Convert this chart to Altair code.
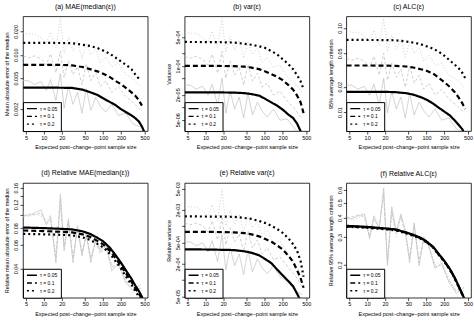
import altair as alt
import pandas as pd

FONT = "Liberation Sans"
TAUS = ["τ = 0.05", "τ = 0.1", "τ = 0.2"]
X_DOMAIN = [4.45, 563]
X_TICKS = [5, 10, 20, 50, 100, 200, 500]
X_TITLE = "Expected post−change−point sample size"

# x positions of the smoothed (black) curves and of the raw (grey) curves
X_SMOOTH = [4.5, 10, 20, 30, 45, 60, 80, 100, 130, 160, 200, 250, 300, 350, 400, 450, 500]
X_RAW = [4.5, 5.5, 7, 9, 11, 13, 16, 19, 22, 26, 31, 37, 44, 52, 62, 75, 90, 110, 140, 180, 240, 320, 430]

# ---- (a) MAE(median)
A_S05 = [0.00378, 0.00377, 0.00376, 0.00374, 0.00355, 0.00330, 0.00304, 0.00275, 0.00246, 0.00226, 0.00199, 0.00180, 0.00166, 0.00152, 0.00138, 0.00119, 0.00099]
A_S10 = [0.00743, 0.00741, 0.00739, 0.00730, 0.00695, 0.00653, 0.00611, 0.00571, 0.00515, 0.00462, 0.00418, 0.00368, 0.00328, 0.00295, 0.00260, 0.00221, None]
A_S20 = [0.01427, 0.01422, 0.01418, 0.01410, 0.01342, 0.01299, 0.01221, 0.01134, 0.01030, 0.00924, 0.00821, 0.00728, 0.00651, 0.00554, 0.00493, None, None]
A_R05 = [0.00464, 0.00464, 0.00413, 0.00451, 0.00346, 0.00478, 0.00258, 0.00571, 0.00204, 0.00390, 0.00230, 0.00327, 0.00176, 0.00367, 0.00192, 0.00282, 0.00216, 0.00182, 0.00230, 0.00166, 0.00176, 0.00128, 0.00117]
A_R10 = [0.00968, 0.00913, 0.00968, 0.00886, 0.00743, 0.01027, 0.00588, 0.01121, 0.00507, 0.00836, 0.00554, 0.00701, 0.00413, 0.00765, 0.00464, 0.00588, 0.00390, 0.00464, 0.00327, 0.00390, 0.00290, 0.00243, 0.00192]
A_R20 = [0.01903, 0.01848, 0.01848, 0.01643, 0.01418, 0.01959, 0.01225, 0.02955, 0.01057, 0.01692, 0.01121, 0.01504, 0.00886, 0.01418, 0.00997, 0.01189, 0.00788, 0.00940, 0.00701, 0.00788, 0.00554, 0.00493, 0.00390]
A_YDOM = [0.00104, 0.0313]
A_YT = [0.002, 0.005, 0.01, 0.02]
A_YL = ["0.002", "0.005", "0.010", "0.020"]

# ---- (b) var
B_S05 = [2.28e-5, 2.28e-5, 2.28e-5, 2.26e-5, 2.20e-5, 2.08e-5, 1.91e-5, 1.62e-5, 1.30e-5, 1.10e-5, 8.78e-6, 6.65e-6, 5.48e-6, 4.04e-6, 2.66e-6, 1.80e-6, None]
B_S10 = [1.00e-4, 1.00e-4, 9.95e-5, 9.84e-5, 9.57e-5, 9.06e-5, 8.33e-5, 7.46e-5, 6.31e-5, 5.50e-5, 4.52e-5, 3.43e-5, 2.67e-5, 1.91e-5, 1.33e-5, 7.23e-6, None]
B_S20 = [3.79e-4, 3.77e-4, 3.73e-4, 3.67e-4, 3.43e-4, 3.24e-4, 2.98e-4, 2.74e-4, 2.26e-4, 1.91e-4, 1.45e-4, 1.10e-4, 8.33e-5, 5.97e-5, 4.28e-5, 2.75e-5, None]
B_R05 = [3.43e-5, 3.43e-5, 2.75e-5, 3.24e-5, 1.97e-5, 3.62e-5, 1.13e-5, 5.06e-5, 7.23e-6, 2.46e-5, 9.03e-6, 1.76e-5, 5.48e-6, 2.20e-5, 6.47e-6, 1.33e-5, 8.08e-6, 5.79e-6, 9.03e-6, 4.90e-6, 5.18e-6, 2.97e-6, 2.13e-6]
B_R10 = [1.71e-4, 1.53e-4, 1.71e-4, 1.45e-4, 1.04e-4, 1.91e-4, 6.67e-5, 2.26e-4, 5.06e-5, 1.30e-4, 5.97e-5, 9.31e-5, 3.43e-5, 1.10e-4, 4.28e-5, 6.67e-5, 3.07e-5, 3.83e-5, 1.97e-5, 2.46e-5, 1.41e-5, 9.03e-6, 5.18e-6]
B_R20 = [6.49e-4, 6.14e-4, 6.14e-4, 4.92e-4, 3.73e-4, 6.86e-4, 2.82e-4, 1.41e-3, 2.14e-4, 5.20e-4, 2.39e-4, 4.16e-4, 1.53e-4, 3.73e-4, 1.91e-4, 2.67e-4, 1.23e-4, 1.62e-4, 9.31e-5, 1.04e-4, 5.35e-5, 3.83e-5, 2.20e-5]
B_YDOM = [2.66e-6, 1.58e-3]
B_YT = [5e-6, 1e-5, 2e-5, 5e-5, 1e-4, 2e-4, 5e-4]
B_YL = ["5e-06", "", "2e-05", "", "1e-04", "", "5e-04"]

# ---- (c) ALC
C_S05 = [0.01741, 0.01741, 0.01741, 0.01726, 0.01680, 0.01613, 0.01506, 0.01407, 0.01261, 0.01131, 0.01014, 0.00909, 0.00793, 0.00701, 0.00628, 0.00534, None]
C_S10 = [0.03581, 0.03581, 0.03571, 0.03551, 0.03484, 0.03390, 0.03236, 0.03106, 0.02862, 0.02566, 0.02270, 0.01980, 0.01726, 0.01486, 0.01279, 0.01085, None]
C_S20 = [0.07203, 0.07203, 0.07184, 0.07144, 0.06914, 0.06711, 0.06408, 0.06066, 0.05665, 0.05248, 0.04679, 0.04083, 0.03660, 0.03325, 0.02941, 0.02531, None]
C_R05 = [0.0209, 0.0209, 0.0187, 0.0203, 0.0159, 0.0215, 0.0121, 0.0253, 0.00975, 0.0177, 0.0109, 0.0151, 0.00849, 0.0168, 0.00922, 0.0131, 0.0103, 0.00873, 0.0109, 0.00804, 0.00849, 0.00628, 0.00579]
C_R10 = [0.0437, 0.0414, 0.0437, 0.0403, 0.0342, 0.0462, 0.0274, 0.0501, 0.0239, 0.0382, 0.0260, 0.0323, 0.0198, 0.0351, 0.0221, 0.0274, 0.0187, 0.0221, 0.0159, 0.0187, 0.0143, 0.0121, 0.00975]
C_R20 = [0.0914, 0.0889, 0.0889, 0.0797, 0.0695, 0.0939, 0.0607, 0.1303, 0.0529, 0.0819, 0.0559, 0.0734, 0.0449, 0.0695, 0.0501, 0.0591, 0.0403, 0.0475, 0.0361, 0.0382, 0.0274, 0.0246, 0.0198]
C_YDOM = [0.00595, 0.1377]
C_YT = [0.01, 0.02, 0.05, 0.10]
C_YL = ["0.01", "0.02", "0.05", "0.10"]

# ---- (d) relative MAE(median)
D_S05 = [0.0807, 0.0799, 0.0789, 0.0782, 0.0756, 0.0724, 0.0677, 0.0637, 0.0570, 0.0506, 0.0441, 0.0378, 0.0335, 0.0297, 0.0271, 0.0246, 0.0222]
D_S10 = [0.0767, 0.0759, 0.0750, 0.0743, 0.0718, 0.0688, 0.0642, 0.0605, 0.0541, 0.0480, 0.0419, 0.0359, 0.0319, 0.0283, 0.0259, 0.0238, None]
D_S20 = [0.0724, 0.0718, 0.0712, 0.0706, 0.0682, 0.0654, 0.0610, 0.0575, 0.0514, 0.0456, 0.0398, 0.0341, 0.0303, 0.0271, 0.0246, 0.0226, None]
D_R05 = [0.1003, 0.0986, 0.1038, 0.1093, 0.0845, 0.0969, 0.0441, 0.1437, 0.0541, 0.0937, 0.0441, 0.0831, 0.0497, 0.0737, 0.0441, 0.0665, 0.0541, 0.0621, 0.0385, 0.0441, 0.0313, 0.0273, 0.0303]
D_R10 = [0.0969, 0.1020, 0.1003, 0.1038, 0.0875, 0.0921, 0.0472, 0.1319, 0.0580, 0.0875, 0.0472, 0.0789, 0.0523, 0.0688, 0.0472, 0.0632, 0.0514, 0.0590, 0.0412, 0.0426, 0.0324, 0.0283, 0.0283]
D_R20 = [0.1056, 0.0969, 0.1020, 0.0986, 0.0905, 0.1003, 0.0497, 0.1170, 0.0600, 0.0905, 0.0497, 0.0763, 0.0541, 0.0712, 0.0489, 0.0642, 0.0560, 0.0570, 0.0426, 0.0456, 0.0335, 0.0264, 0.0292]
D_YDOM = [0.0242, 0.1735]
D_YT = [0.04, 0.06, 0.08, 0.10, 0.12, 0.14, 0.16]
D_YL = ["0.04", "0.06", "0.08", "", "0.12", "", "0.16"]

# ---- (e) relative var
E_S05 = [3.74e-4, 3.71e-4, 3.66e-4, 3.62e-4, 3.44e-4, 3.22e-4, 2.90e-4, 2.49e-4, 2.06e-4, 1.59e-4, 1.23e-4, 9.56e-5, 7.72e-5, 5.61e-5, 4.17e-5, None, None]
E_S10 = [7.89e-4, 7.89e-4, 7.82e-4, 7.72e-4, 7.50e-4, 7.09e-4, 6.51e-4, 5.85e-4, 5.15e-4, 4.44e-4, 3.74e-4, 2.84e-4, 2.20e-4, 1.53e-4, 1.11e-4, 7.24e-5, None]
E_S20 = [1.53e-3, 1.52e-3, 1.51e-3, 1.50e-3, 1.43e-3, 1.37e-3, 1.26e-3, 1.16e-3, 1.02e-3, 8.97e-4, 7.56e-4, 5.98e-4, 4.63e-4, 3.51e-4, 2.29e-4, 1.16e-4, None]
E_R05 = [5.15e-4, 5.15e-4, 4.34e-4, 4.94e-4, 3.36e-4, 5.38e-4, 2.20e-4, 6.94e-4, 1.56e-4, 3.99e-4, 1.85e-4, 3.09e-4, 1.26e-4, 3.66e-4, 1.43e-4, 2.49e-4, 1.70e-4, 1.31e-4, 1.85e-4, 1.16e-4, 9.77e-5, 6.38e-5, 5.37e-5]
E_R10 = [1.16e-3, 1.06e-3, 1.16e-3, 1.02e-3, 7.89e-4, 1.26e-3, 5.61e-4, 1.43e-3, 4.53e-4, 9.36e-4, 5.15e-4, 7.24e-4, 3.36e-4, 8.24e-4, 3.99e-4, 5.61e-4, 3.09e-4, 3.99e-4, 2.39e-4, 2.72e-4, 1.77e-4, 1.26e-4, 7.56e-5]
E_R20 = [2.39e-3, 2.29e-3, 2.29e-3, 1.93e-3, 1.56e-3, 2.50e-3, 1.26e-3, 4.94e-3, 1.02e-3, 2.01e-3, 1.11e-3, 1.70e-3, 7.89e-4, 1.56e-3, 9.36e-4, 1.21e-3, 6.65e-4, 8.60e-4, 4.94e-4, 5.38e-4, 3.22e-4, 2.10e-4, 1.21e-4]
E_YDOM = [4.73e-5, 6.38e-3]
E_YT = [5e-5, 1e-4, 2e-4, 5e-4, 1e-3, 2e-3, 5e-3]
E_YL = ["5e-05", "", "2e-04", "5e-04", "", "2e-03", "5e-03"]

# ---- (f) relative ALC
F_S05 = [0.3544, 0.3492, 0.3416, 0.3366, 0.3222, 0.3106, 0.2972, 0.2822, 0.2604, 0.2350, 0.2120, 0.1872, 0.1653, 0.1459, 0.1307, 0.1180, None]
F_S10 = [0.3520, 0.3470, 0.3395, 0.3345, 0.3200, 0.3085, 0.2952, 0.2803, 0.2587, 0.2334, 0.2106, 0.1860, 0.1642, 0.1450, 0.1299, 0.1173, None]
F_S20 = [0.3496, 0.3446, 0.3371, 0.3322, 0.3178, 0.3064, 0.2932, 0.2784, 0.2570, 0.2319, 0.2092, 0.1848, 0.1631, 0.1440, 0.1290, None, None]
F_R05 = [0.4043, 0.3926, 0.4103, 0.4226, 0.2929, 0.4043, 0.3392, 0.6187, 0.1971, 0.4682, 0.3198, 0.4226, 0.3294, 0.2059, 0.3702, 0.1971, 0.3016, 0.2643, 0.1886, 0.2059, 0.1536, 0.1327, 0.1428]
F_R10 = [0.3926, 0.4043, 0.4164, 0.4043, 0.3016, 0.3869, 0.3492, 0.5750, 0.2059, 0.4416, 0.3294, 0.4043, 0.3152, 0.2184, 0.3544, 0.2059, 0.2929, 0.2566, 0.1942, 0.2000, 0.1582, 0.1366, 0.1366]
F_R20 = [0.4164, 0.3869, 0.3984, 0.4164, 0.3106, 0.4164, 0.3595, 0.5422, 0.2184, 0.4288, 0.3016, 0.4103, 0.3392, 0.2248, 0.3595, 0.2184, 0.2844, 0.2682, 0.2000, 0.2120, 0.1629, 0.1288, 0.1449]
F_YDOM = [0.1233, 0.6658]
F_YT = [0.2, 0.3, 0.4, 0.5, 0.6]
F_YL = ["0.2", "0.3", "0.4", "0.5", "0.6"]


def make_df(xs, series):
    rows = []
    for tau, vals in zip(TAUS, series):
        for xv, yv in zip(xs, vals):
            if yv is not None:
                rows.append({"x": xv, "y": yv, "tau": tau})
    return pd.DataFrame(rows)


def label_expr(vals, labels):
    parts = []
    for i in range(len(vals) - 1):
        thr = (vals[i] * vals[i + 1]) ** 0.5
        parts.append(f"datum.value < {thr:.6g} ? '{labels[i]}' : ")
    return "".join(parts) + f"'{labels[-1]}'"


def panel(title, ytitle, smooth, raw, ydom, yvals, ylabels):
    xaxis = alt.Axis(values=X_TICKS, title=X_TITLE, format="d", labelFlush=False,
                     labelOverlap=False, tickSize=3, labelPadding=1, titlePadding=4)
    yaxis = alt.Axis(values=yvals, labelExpr=label_expr(yvals, ylabels), title=ytitle,
                     labelAngle=270, labelAlign="center", labelBaseline="bottom",
                     labelPadding=1, titlePadding=4, tickSize=3, labelOverlap=False,
                     labelFlush=False)
    x = alt.X("x:Q", scale=alt.Scale(type="log", domain=X_DOMAIN, nice=False), axis=xaxis)
    y = alt.Y("y:Q", scale=alt.Scale(type="log", domain=ydom, nice=False), axis=yaxis)
    grey = alt.Chart(make_df(X_RAW, raw)).mark_line(
        color="#c4c4c4", strokeWidth=0.8, clip=True
    ).encode(
        x=x, y=y,
        strokeDash=alt.StrokeDash("tau:N", scale=alt.Scale(domain=TAUS, range=[[1, 0], [3, 2], [1, 2]]), legend=None),
    )
    black = alt.Chart(make_df(X_SMOOTH, smooth)).mark_line(
        color="black", strokeWidth=2.2, clip=True
    ).encode(
        x=x, y=y,
        strokeDash=alt.StrokeDash(
            "tau:N",
            scale=alt.Scale(domain=TAUS, range=[[1, 0], [5, 3], [2, 3]]),
            legend=alt.Legend(title=None, orient="bottom-left", offset=0),
        ),
    )
    return alt.layer(grey, black).resolve_scale(strokeDash="independent").properties(
        width=125, height=115, title=alt.TitleParams(title, frame="group")
    )


pa = panel("(a) MAE(median(ε))", "Mean absolute error of the median",
           [A_S05, A_S10, A_S20], [A_R05, A_R10, A_R20], A_YDOM, A_YT, A_YL)
pb = panel("(b) var(ε)", "Variance",
           [B_S05, B_S10, B_S20], [B_R05, B_R10, B_R20], B_YDOM, B_YT, B_YL)
pc = panel("(c) ALC(ε)", "95% average length criterion",
           [C_S05, C_S10, C_S20], [C_R05, C_R10, C_R20], C_YDOM, C_YT, C_YL)
pd_ = panel("(d) Relative MAE(median(ε))", "Relative mean absolute error of the median",
            [D_S05, D_S10, D_S20], [D_R05, D_R10, D_R20], D_YDOM, D_YT, D_YL)
pe = panel("(e) Relative var(ε)", "Relative variance",
           [E_S05, E_S10, E_S20], [E_R05, E_R10, E_R20], E_YDOM, E_YT, E_YL)
pf = panel("(f) Relative ALC(ε)", "Relative 95% average length criterion",
           [F_S05, F_S10, F_S20], [F_R05, F_R10, F_R20], F_YDOM, F_YT, F_YL)

chart = alt.concat(
    pa, pb, pc, pd_, pe, pf, columns=3, spacing={"row": 52, "column": 37}, bounds="flush"
).resolve_scale(
    strokeDash="independent"
).properties(
    padding={"left": 4, "top": 2, "right": 1, "bottom": 1},
    background="white",
).configure_view(
    stroke="black", strokeWidth=0.8, fill="white"
).configure_axis(
    labelFont=FONT, titleFont=FONT, labelFontSize=5.5, titleFontSize=5.5,
    titleFontWeight="normal", labelColor="black", titleColor="black",
    tickColor="black", tickWidth=0.7, domain=False, grid=False,
).configure_title(
    font=FONT, fontSize=7, fontWeight="normal", color="black", offset=6, anchor="middle",
).configure_legend(
    strokeColor="black", fillColor="white", padding=3, labelFont=FONT, labelFontSize=5,
    symbolType="M-1,0H3", symbolSize=25, symbolStrokeColor="black", symbolStrokeWidth=1.4,
    symbolFillColor="transparent", rowPadding=0.8, labelOffset=7, cornerRadius=0,
)

chart.save("out.html", embed_options={"renderer": "svg", "actions": False})
